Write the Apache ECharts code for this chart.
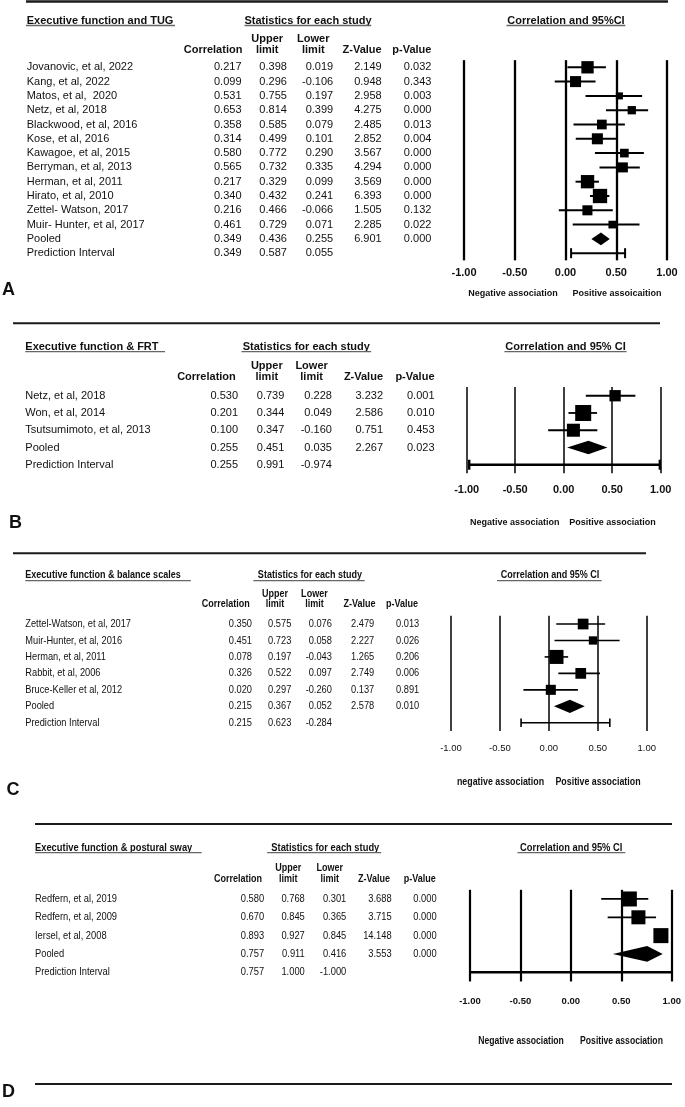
<!DOCTYPE html>
<html><head><meta charset="utf-8">
<script src="https://cdn.jsdelivr.net/npm/echarts/dist/echarts.min.js"></script>
<style>html,body{margin:0;padding:0;background:#fff}#c{width:685px;height:1107px}</style>
</head><body><div id="c"></div>
<script>
// ---------- DATA ----------
const tickValues = [-1, -0.5, 0, 0.5, 1];
const colHeadTop = ['', 'Upper', 'Lower', '', ''];
const colHeadBottom = ['Correlation', 'limit', 'limit', 'Z-Value', 'p-Value'];

// Panel A
const titleA = ['Executive function and TUG', 'Statistics for each study', 'Correlation and 95%CI'];
const assocA = ['Negative association', 'Positive assoicaition'];
const studiesA = ['Jovanovic, et al, 2022','Kang, et al, 2022','Matos, et al,  2020','Netz, et al, 2018','Blackwood, et al, 2016','Kose, et al, 2016','Kawagoe, et al, 2015','Berryman, et al, 2013','Herman, et al, 2011','Hirato, et al, 2010','Zettel- Watson, 2017','Muir- Hunter, et al, 2017','Pooled','Prediction Interval'];
const corrA  = [0.217,0.099,0.531,0.653,0.358,0.314,0.580,0.565,0.217,0.340,0.216,0.461,0.349,0.349];
const upperA = [0.398,0.296,0.755,0.814,0.585,0.499,0.772,0.732,0.329,0.432,0.466,0.729,0.436,0.587];
const lowerA = [0.019,-0.106,0.197,0.399,0.079,0.101,0.290,0.335,0.099,0.241,-0.066,0.071,0.255,0.055];
const zA     = [2.149,0.948,2.958,4.275,2.485,2.852,3.567,4.294,3.569,6.393,1.505,2.285,6.901,null];
const pA     = [0.032,0.343,0.003,0.000,0.013,0.004,0.000,0.000,0.000,0.000,0.132,0.022,0.000,null];
const weightA = [9.5,7.6,3.1,4.3,5.9,7.6,4.7,6.3,11.1,12.8,6.3,3.7,null,null];

// Panel B
const titleB = ['Executive function & FRT', 'Statistics for each study', 'Correlation and 95% CI'];
const assocB = ['Negative association', 'Positive association'];
const studiesB = ['Netz, et al, 2018','Won, et al, 2014','Tsutsumimoto, et al, 2013','Pooled','Prediction Interval'];
const corrB  = [0.530,0.201,0.100,0.255,0.255];
const upperB = [0.739,0.344,0.347,0.451,0.991];
const lowerB = [0.228,0.049,-0.160,0.035,-0.974];
const zB     = [3.232,2.586,0.751,2.267,null];
const pB     = [0.001,0.010,0.453,0.023,null];
const weightB = [8.0,16.0,10.6,null,null];

// Panel C
const titleC = ['Executive function & balance scales', 'Statistics for each study', 'Correlation and 95% CI'];
const assocC = ['negative association', 'Positive association'];
const studiesC = ['Zettel-Watson, et al, 2017','Muir-Hunter, et al, 2016','Herman, et al, 2011','Rabbit, et al, 2006','Bruce-Keller et al, 2012','Pooled','Prediction Interval'];
const corrC  = [0.350,0.451,0.078,0.326,0.020,0.215,0.215];
const upperC = [0.575,0.723,0.197,0.522,0.297,0.367,0.623];
const lowerC = [0.076,0.058,-0.043,0.097,-0.260,0.052,-0.284];
const zC     = [2.479,2.227,1.265,2.749,0.137,2.578,null];
const pC     = [0.013,0.026,0.206,0.006,0.891,0.010,null];
const weightC = [7.2,4.3,12.3,7.2,6.3,null,null];

// Panel D
const titleD = ['Executive function & postural sway', 'Statistics for each study', 'Correlation and 95% CI'];
const assocD = ['Negative association', 'Positive association'];
const studiesD = ['Redfern, et al, 2019','Redfern, et al, 2009','Iersel, et al, 2008','Pooled','Prediction Interval'];
const corrD  = [0.580,0.670,0.893,0.757,0.757];
const upperD = [0.768,0.845,0.927,0.911,1.000];
const lowerD = [0.301,0.365,0.845,0.416,-1.000];
const zD     = [3.688,3.715,14.148,3.553,null];
const pD     = [0.000,0.000,0.000,0.000,null];
const weightD = [14.1,12.3,14.1,null,null];

// ---------- LAYOUT ----------
const FF = "'Liberation Sans', Arial, Helvetica, sans-serif";
const INK = '#111';

const layouts = [
 { letter:'A', lx:2, ly:290, sx:1,
   grid:{left:464, top:60.15, width:203, height:200.2},
   gridW:2.3, ciW:2, piW:2, capH:10, diaH:12.7, sqUnit:4,
   axSize:11, axWeight:'bold', axMargin:7,
   body:11, head:11, colHead:11,
   nameX:26.7, valRight:[241.5,286.9,333.2,381.7,431.4],
   colX:[[242.4,'right'],[267.2,'center'],[313.3,'center'],[381.7,'right'],[431.4,'right']],
   hY1:39, hY2:50, titleY:20.7, ulY:25.5,
   titleX:[[26.7,'left'],[308,'center'],[566,'center']],
   ul:[[26,175],[244.5,371.2],[506.5,625.3]],
   assocY:293.3, assocX:[513,617], assocSize:9, assocSx:1 },
 { letter:'B', lx:9, ly:522.7, sx:1,
   grid:{left:466.7, top:387.1, width:194, height:86.25},
   gridW:1.5, ciW:1.8, piW:2.4, capH:10, diaH:13.7, sqUnit:4,
   axSize:11, axWeight:'bold', axMargin:11,
   body:11, head:11, colHead:11,
   nameX:25.3, valRight:[238,284.3,331.9,383,434.5],
   colX:[[235.8,'right'],[266.8,'center'],[311.6,'center'],[383,'right'],[434.5,'right']],
   hY1:366, hY2:377.3, titleY:346.7, ulY:351.7,
   titleX:[[25.3,'left'],[306.3,'center'],[565.5,'center']],
   ul:[[25.3,165],[241.5,371.2],[504.4,626.6]],
   assocY:522.7, assocX:[514.7,612.5], assocSize:9, assocSx:1 },
 { letter:'C', lx:6.5, ly:790, sx:0.82,
   grid:{left:451, top:615.8, width:195.7, height:115.15},
   gridW:1.5, ciW:1.6, piW:1.6, capH:8.3, diaH:13.3, sqUnit:4,
   axSize:9.5, axWeight:'normal', axMargin:12,
   body:11.3, head:11, colHead:11,
   nameX:25.3, valRight:[252,291.3,331.9,374.2,419.2],
   colX:[[249.8,'right'],[275.1,'center'],[314.4,'center'],[375.5,'right'],[418,'right']],
   hY1:594.3, hY2:604.3, titleY:575, ulY:580.7,
   titleX:[[25.3,'left'],[310,'center'],[550,'center']],
   ul:[[25.3,190.8],[253.3,364.6],[497,601.7]],
   assocY:782.3, assocX:[500.5,598], assocSize:10.8, assocSx:0.82 },
 { letter:'D', lx:2, ly:1091.7, sx:0.82,
   grid:{left:470, top:889.8, width:201.7, height:91.65},
   gridW:2.2, ciW:1.8, piW:2.6, capH:0, diaH:15.7, sqUnit:4,
   axSize:9.5, axWeight:'bold', axMargin:14.5,
   body:11.4, head:11.4, colHead:11,
   nameX:35, valRight:[264.2,304.8,346.3,391.7,436.7],
   colX:[[262,'right'],[288.2,'center'],[329.7,'center'],[390,'right'],[435.8,'right']],
   hY1:868.3, hY2:879, titleY:847.7, ulY:852.7,
   titleX:[[35,'left'],[325.3,'center'],[571.2,'center']],
   ul:[[35,201.7],[267.2,381.2],[517.5,625.3]],
   assocY:1041, assocX:[521,621.5], assocSize:10.5, assocSx:0.82 }
];
const rules = [[26,668,1.5,2.5],[13,660,323.3,2],[13,646,553.3,2],[35,672,824,2],[35,672,1084,2]];

const panels = [
 {names:studiesA, corr:corrA, upper:upperA, lower:lowerA, z:zA, p:pA, w:weightA, title:titleA, assoc:assocA, L:layouts[0]},
 {names:studiesB, corr:corrB, upper:upperB, lower:lowerB, z:zB, p:pB, w:weightB, title:titleB, assoc:assocB, L:layouts[1]},
 {names:studiesC, corr:corrC, upper:upperC, lower:lowerC, z:zC, p:pC, w:weightC, title:titleC, assoc:assocC, L:layouts[2]},
 {names:studiesD, corr:corrD, upper:upperD, lower:lowerD, z:zD, p:pD, w:weightD, title:titleD, assoc:assocD, L:layouts[3]}
];

// ---------- HELPERS ----------
const fmt3 = v => (v == null ? '' : v.toFixed(3));
function txt(text, x, y, size, weight, align, sx) {
  return { type:'text', x:x, y:y, scaleX:sx||1, scaleY:1, silent:true,
    style:{ text:text, x:0, y:0, fontSize:size, fontWeight:weight||'normal', fontFamily:FF, fill:INK,
      align:align||'left', textAlign:align||'left', verticalAlign:'middle', textVerticalAlign:'middle' } };
}
function hline(x1, x2, y, w, color) {
  return { type:'line', silent:true, shape:{x1:x1, y1:y, x2:x2, y2:y}, style:{stroke:color, lineWidth:w} };
}

function marksRenderer(P) {
  const L = P.L, n = P.names.length;
  return function (params, api) {
    const i = api.value(0);
    const e = api.coord([api.value(1), i]);
    const lo = api.coord([api.value(2), i]);
    const hi = api.coord([api.value(3), i]);
    const y = e[1];
    const kind = i === n - 1 ? 'pi' : (i === n - 2 ? 'pooled' : 'study');
    if (kind === 'study') {
      const s = L.sqUnit * Math.sqrt(api.value(4));
      return { type:'group', children:[
        { type:'line', shape:{x1:lo[0], y1:y, x2:hi[0], y2:y}, style:{stroke:'#000', lineWidth:L.ciW} },
        { type:'rect', shape:{x:e[0]-s/2, y:y-s/2, width:s, height:s}, style:{fill:'#000'} }
      ]};
    }
    if (kind === 'pooled') {
      const h = L.diaH / 2;
      return { type:'polygon', shape:{points:[[lo[0],y],[e[0],y-h],[hi[0],y],[e[0],y+h]]}, style:{fill:'#000'} };
    }
    const c = L.capH / 2;
    const ch = [{ type:'line', shape:{x1:lo[0], y1:y, x2:hi[0], y2:y}, style:{stroke:'#000', lineWidth:L.piW} }];
    if (c > 0) {
      ch.push({ type:'line', shape:{x1:lo[0], y1:y-c, x2:lo[0], y2:y+c}, style:{stroke:'#000', lineWidth:L.piW} });
      ch.push({ type:'line', shape:{x1:hi[0], y1:y-c, x2:hi[0], y2:y+c}, style:{stroke:'#000', lineWidth:L.piW} });
    }
    return { type:'group', children:ch };
  };
}

function tableRenderer(P) {
  const L = P.L;
  return function (params, api) {
    const i = api.value(1);
    const y = api.coord([0, i])[1];
    const vals = [P.corr[i], P.upper[i], P.lower[i], P.z[i], P.p[i]];
    const ch = [txt(P.names[i], L.nameX, y, L.body, 'normal', 'left', L.sx)];
    vals.forEach((v, k) => { if (v != null) ch.push(txt(fmt3(v), L.valRight[k], y, L.body, 'normal', 'right', L.sx)); });
    return { type:'group', children:ch };
  };
}

// ---------- OPTION ----------
const grids = [], xAxes = [], yAxes = [], series = [], graphics = [];
panels.forEach((P, k) => {
  const L = P.L;
  grids.push({ left:L.grid.left, top:L.grid.top, width:L.grid.width, height:L.grid.height, containLabel:false });
  xAxes.push({ type:'value', gridIndex:k, min:tickValues[0], max:tickValues[tickValues.length-1], interval:0.5,
    axisLine:{show:false}, axisTick:{show:false},
    splitLine:{show:true, showMinLine:true, showMaxLine:true, lineStyle:{color:'#000', width:L.gridW, type:'solid'}},
    axisLabel:{show:true, showMinLabel:true, showMaxLabel:true, margin:L.axMargin, color:INK,
      fontSize:L.axSize, fontWeight:L.axWeight, fontFamily:FF, formatter:v => v.toFixed(2)} });
  yAxes.push({ type:'category', gridIndex:k, data:P.names, inverse:true, show:false,
    axisLine:{show:false}, axisTick:{show:false}, axisLabel:{show:false}, splitLine:{show:false} });
  series.push({ type:'custom', name:'marks'+k, xAxisIndex:k, yAxisIndex:k, clip:false, silent:true,
    renderItem: marksRenderer(P), encode:{x:[1,2,3], y:0},
    data: P.names.map((_, i) => [i, P.corr[i], P.lower[i], P.upper[i], P.w[i] == null ? 0 : P.w[i]]) });
  series.push({ type:'custom', name:'table'+k, xAxisIndex:k, yAxisIndex:k, clip:false, silent:true,
    renderItem: tableRenderer(P), encode:{x:0, y:1},
    data: P.names.map((_, i) => [0, i]) });

  P.title.forEach((t, j) => {
    graphics.push(txt(t, L.titleX[j][0], L.titleY, L.head, 'bold', L.titleX[j][1], L.sx));
    graphics.push(hline(L.ul[j][0], L.ul[j][1], L.ulY, 1.3, '#666'));
  });
  colHeadTop.forEach((t, j) => { if (t) graphics.push(txt(t, L.colX[j][0], L.hY1, L.colHead, 'bold', L.colX[j][1], L.sx)); });
  colHeadBottom.forEach((t, j) => graphics.push(txt(t, L.colX[j][0], L.hY2, L.colHead, 'bold', L.colX[j][1], L.sx)));
  P.assoc.forEach((t, j) => graphics.push(txt(t, L.assocX[j], L.assocY, L.assocSize, 'bold', 'center', L.assocSx)));
  graphics.push(txt(L.letter, L.lx, L.ly, 18, 'bold', 'left', 1));
});
rules.forEach(r => graphics.push(hline(r[0], r[1], r[2], r[3], '#1a1a1a')));

const chart = echarts.init(document.getElementById('c'), null, {renderer:'canvas'});
chart.setOption({
  backgroundColor:'#fff',
  animation:false,
  grid:grids, xAxis:xAxes, yAxis:yAxes, series:series,
  graphic:{elements:graphics}
});
</script></body></html>
